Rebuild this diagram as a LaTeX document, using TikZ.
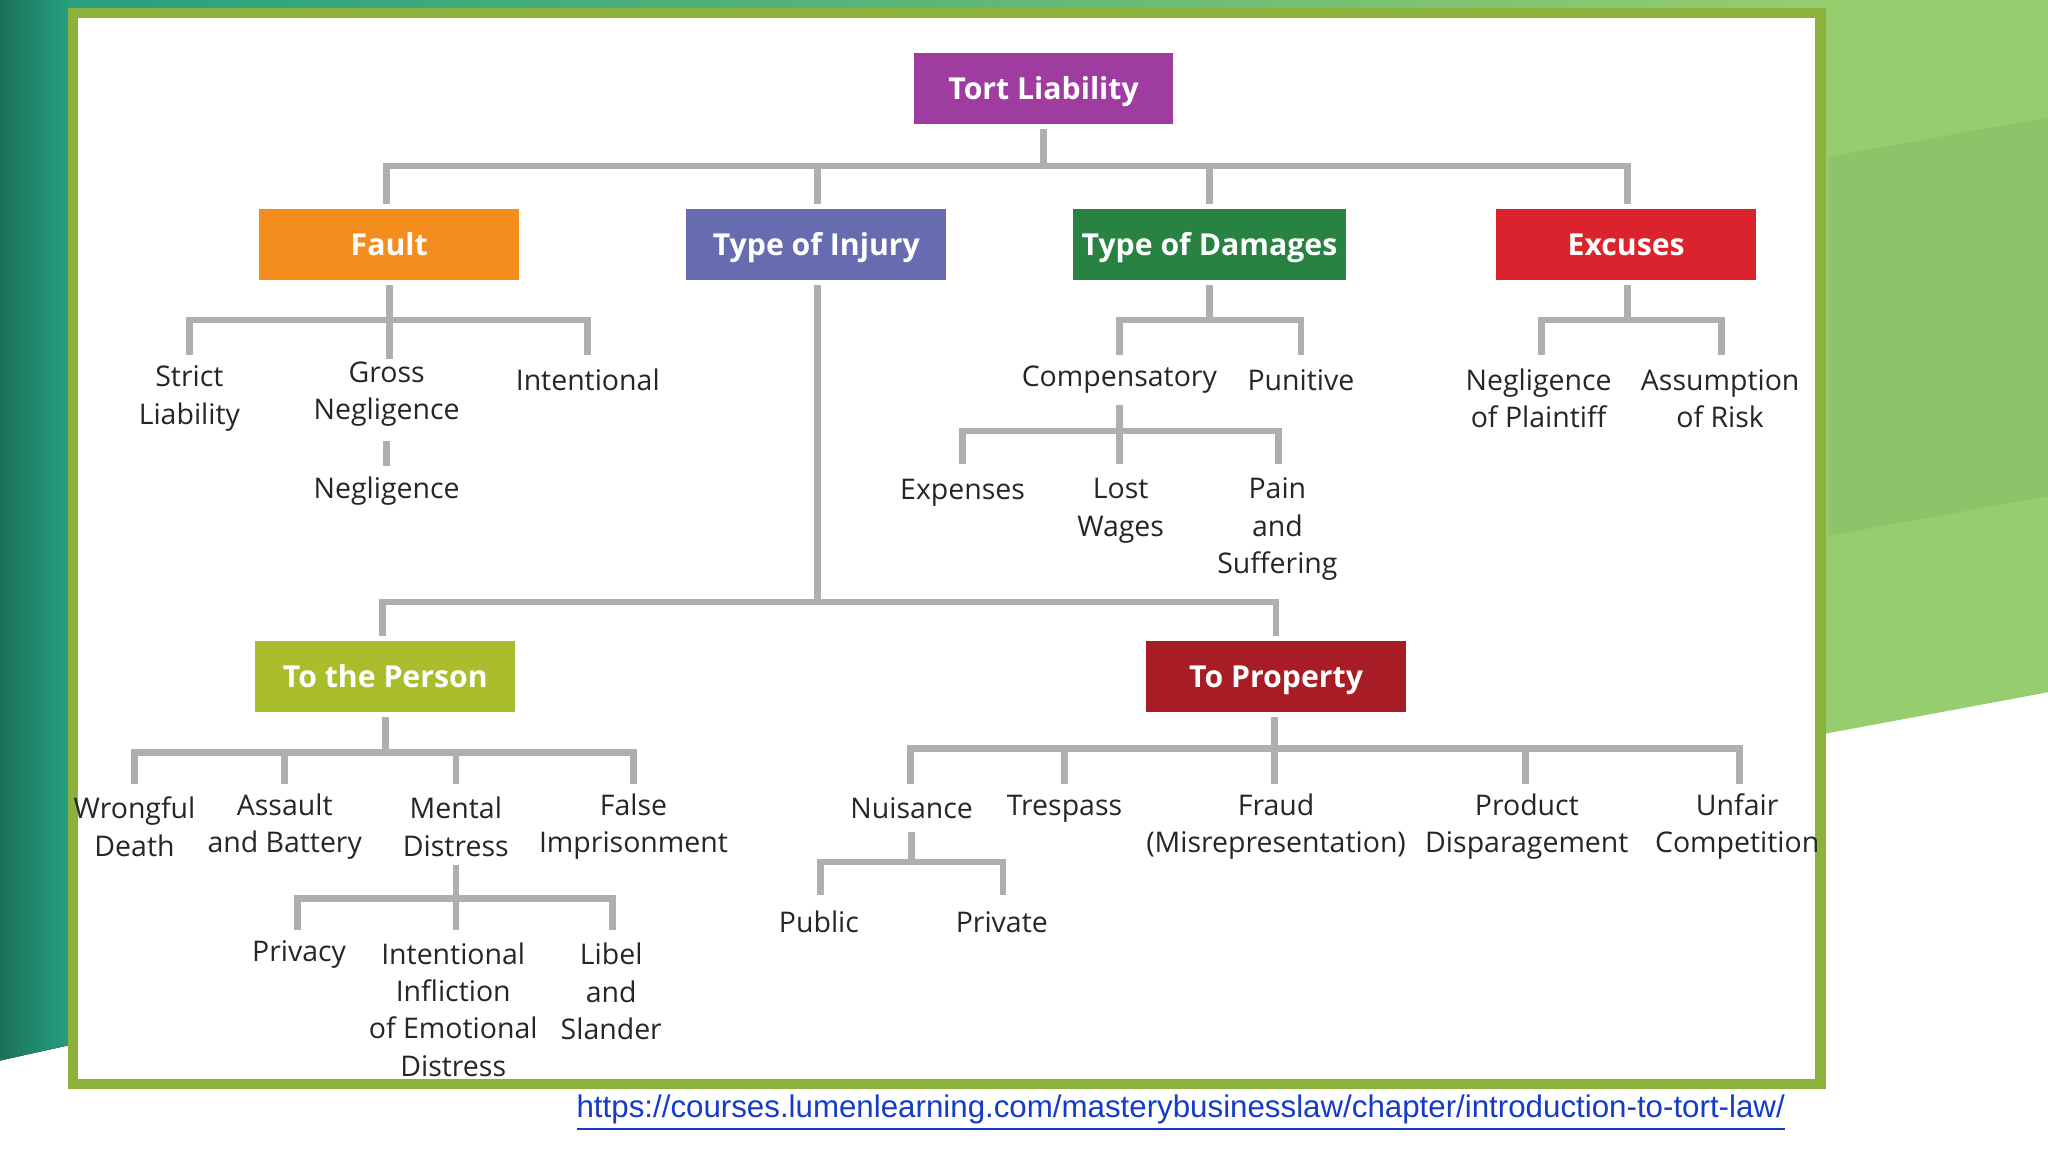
\documentclass[tikz,border=0pt]{standalone}
\usepackage{fontspec}
\setmainfont{Open Sans}
\newfontfamily\urlfont{Liberation Sans}
\usetikzlibrary{shadows}
\definecolor{frameg}{RGB}{140,178,60}
\definecolor{lineg}{RGB}{175,175,175}
\definecolor{cTort}{RGB}{158,60,160}
\definecolor{cFault}{RGB}{245,140,30}
\definecolor{cInj}{RGB}{102,108,175}
\definecolor{cDam}{RGB}{40,130,65}
\definecolor{cExc}{RGB}{218,35,45}
\definecolor{cPer}{RGB}{170,190,45}
\definecolor{cProp}{RGB}{168,28,38}
\definecolor{teal}{RGB}{38,160,128}
\definecolor{lgreen}{RGB}{150,205,110}
\definecolor{link}{RGB}{20,60,200}
\begin{document}
\begin{tikzpicture}[x=0.01306cm,y=-0.01306cm,
 box/.style={draw=white,line width=1.5pt,minimum width=2.65cm,minimum height=0.76cm,text height=1.6ex,text depth=0.45ex,text=white,font=\fontsize{8.6}{10}\selectfont\bfseries,drop shadow={shadow xshift=0.6pt,shadow yshift=-0.6pt,opacity=0.35}},
 lab/.style={align=center,font=\fontsize{8.1}{10.6}\selectfont,text=black!85,inner sep=0pt},
 ln/.style={draw=lineg,line width=1.9pt}]
\useasboundingbox (0,0) rectangle (1568,882);
\fill[white] (0,0) rectangle (1568,882);
% background
\fill[left color=teal!70!black,right color=teal] (0,0) -- (54,0) -- (54,800) -- (0,812) -- cycle;
\fill[left color=teal,right color=lgreen] (54,0) rectangle (1396,8);
\fill[lgreen] (1396,0) -- (1568,0) -- (1568,530) -- (1396,562) -- cycle;
\fill[lgreen!85!black,opacity=0.3] (1400,120) -- (1568,90) -- (1568,380) -- (1400,410) -- cycle;
\draw[frameg,line width=3pt,fill=white] (56,10) rectangle (1394,830);
% connectors
\draw[ln] (799,97) -- (799,127) (296,158) -- (296,127) -- (1246,127) -- (1246,158) (626,127) -- (626,158) (926,127) -- (926,158);
\draw[ln] (298,215) -- (298,275) (145,272) -- (145,245) -- (450,245) -- (450,272) (296,338) -- (296,357);
\draw[ln] (926,215) -- (926,245) (857,272) -- (857,245) -- (996,245) -- (996,272);
\draw[ln] (857,310) -- (857,355) (737,355) -- (737,330) -- (979,330) -- (979,355);
\draw[ln] (1246,215) -- (1246,245) (1180,272) -- (1180,245) -- (1318,245) -- (1318,272);
\draw[ln] (626,215) -- (626,461) (293,490) -- (293,461) -- (977,461) -- (977,490);
\draw[ln] (295,547) -- (295,576) (103,600) -- (103,576) -- (485,576) -- (485,600) (218,576) -- (218,600) (349,576) -- (349,600);
\draw[ln] (349,662) -- (349,712) (228,712) -- (228,688) -- (469,688) -- (469,712);
\draw[ln] (976,547) -- (976,600) (697,600) -- (697,573) -- (1332,573) -- (1332,600) (815,573) -- (815,600) (1168,573) -- (1168,600);
\draw[ln] (698,637) -- (698,660) (628,685) -- (628,660) -- (768,660) -- (768,685);
% boxes
\node[box,fill=cTort] (tort) at (799,68) {Tort Liability};
\node[box,fill=cFault] (fault) at (298,187) {Fault};
\node[box,fill=cInj] (inj) at (625,187) {Type of Injury};
\node[box,fill=cDam] (dam) at (926,187) {Type of Damages};
\node[box,fill=cExc] (exc) at (1245,187) {Excuses};
\node[box,fill=cPer] (per) at (295,518) {To the Person};
\node[box,fill=cProp] (prop) at (977,518) {To Property};
% labels
\node[lab] (sl) at (145,305) {Strict\\Liability};
\node[lab] (gn) at (296,302) {Gross\\Negligence};
\node[lab] (int) at (450,291) {Intentional};
\node[lab] (neg) at (296,376) {Negligence};
\node[lab] (comp) at (857,291) {Compensatory};
\node[lab] (pun) at (996,291) {Punitive};
\node[lab] (exp) at (737,377) {Expenses};
\node[lab] (lw) at (858,391) {Lost\\Wages};
\node[lab] (pain) at (978,405) {Pain\\and\\Suffering};
\node[lab] (nop) at (1178,305) {Negligence\\of Plaintiff};
\node[lab] (aor) at (1317,305) {Assumption\\of Risk};
\node[lab] (wd) at (103,633) {Wrongful\\Death};
\node[lab] (ab) at (218,633) {Assault\\and Battery};
\node[lab] (md) at (349,633) {Mental\\Distress};
\node[lab] (fi) at (485,633) {False\\Imprisonment};
\node[lab] (pr) at (229,731) {Privacy};
\node[lab] (iied) at (347,773) {Intentional\\Infliction\\of Emotional\\Distress};
\node[lab] (ls) at (468,759) {Libel\\and\\Slander};
\node[lab] (nui) at (698,619) {Nuisance};
\node[lab] (tre) at (815,619) {Trespass};
\node[lab] (fr) at (977,633) {Fraud\\(Misrepresentation)};
\node[lab] (pd) at (1169,633) {Product\\Disparagement};
\node[lab] (uc) at (1330,633) {Unfair\\Competition};
\node[lab] (pub) at (627,706) {Public};
\node[lab] (pri) at (767,706) {Private};
\node[font=\urlfont\fontsize{8.9}{10}\selectfont,text=link,inner sep=0pt] (url) at (904,852) {\underline{https://courses.lumenlearning.com/masterybusinesslaw/chapter/introduction-to-tort-law/}};
\end{tikzpicture}
\end{document}
